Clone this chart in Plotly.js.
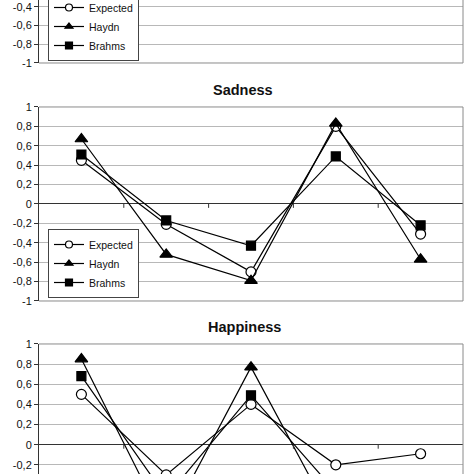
<!DOCTYPE html>
<html>
<head>
<meta charset="utf-8">
<script src="https://cdn.plot.ly/plotly-3.0.1.min.js"></script>
<style>
  body { margin: 0; background: #fff; }
  #chart { width: 474px; height: 474px; }
</style>
</head>
<body>
<div id="chart"></div>
<script>
//data (excerpts have no visible labels)
var excerpts = ["1", "2", "3", "4", "5"];

//sadness panel
var sadExpected = [0.45, -0.21, -0.70, 0.80, -0.31];
var sadHaydn = [0.67, -0.52, -0.79, 0.83, -0.57];
var sadBrahms = [0.51, -0.17, -0.43, 0.49, -0.22];

//happiness panel (lower values are cut off by the picture, estimated)
var hapExpected = [0.50, -0.30, 0.40, -0.20, -0.09];
var hapHaydn = [0.85, -0.82, 0.77, -0.80, -0.75];
var hapBrahms = [0.68, -0.52, 0.49, -0.47, -0.50];

//y ticks
var yTicks = [-1, -0.8, -0.6, -0.4, -0.2, 0, 0.2, 0.4, 0.6, 0.8, 1];
var yLabels = ["-1", "-0,8", "-0,6", "-0,4", "-0,2", "0", "0,2", "0,4", "0,6", "0,8", "1"];

var font = "Liberation Sans, Arial, sans-serif";

//panel geometry (top panel only shows its lower part)
var topDomain = [0.8671, 1];
var topRange = [-1, -0.326];
var sadDomain = [0.365, 0.7743];
var sadRange = [-1, 1];
var hapDomain = [0, 0.2743];
var hapRange = [-0.291, 1];

var styles = {
  Expected: { symbol: "circle", size: 10, color: "#fff" },
  Haydn: { symbol: "triangle-up", size: 11, color: "#000" },
  Brahms: { symbol: "square", size: 9, color: "#000" },
};

function series(name, y, xa, ya) {
  var s = styles[name];
  return {
    x: excerpts,
    y: y,
    name: name,
    xaxis: xa,
    yaxis: ya,
    showlegend: false,
    mode: "lines+markers",
    type: "scatter",
    line: { color: "#000", width: 1.2 },
    marker: { symbol: s.symbol, size: s.size, color: s.color, line: { color: "#000", width: 1.2 } },
  };
}

//legend entries: no points, smaller markers like the legend boxes in the picture
function legendEntry(name, xa, ya, legend) {
  var s = styles[name];
  return {
    x: excerpts,
    y: excerpts.map(function () { return null; }),
    name: name,
    xaxis: xa,
    yaxis: ya,
    legend: legend,
    showlegend: true,
    mode: "lines+markers",
    type: "scatter",
    line: { color: "#000", width: 1.2 },
    marker: { symbol: s.symbol, size: 7, color: s.color, line: { color: "#000", width: 1.2 } },
  };
}

var data = [
  series("Expected", sadExpected, "x2", "y2"),
  series("Haydn", sadHaydn, "x2", "y2"),
  series("Brahms", sadBrahms, "x2", "y2"),
  series("Expected", hapExpected, "x3", "y3"),
  series("Haydn", hapHaydn, "x3", "y3"),
  series("Brahms", hapBrahms, "x3", "y3"),
  //top panel legend
  legendEntry("Expected", "x", "y", "legend"),
  legendEntry("Haydn", "x", "y", "legend"),
  legendEntry("Brahms", "x", "y", "legend"),
  //sadness legend
  legendEntry("Expected", "x2", "y2", "legend2"),
  legendEntry("Haydn", "x2", "y2", "legend2"),
  legendEntry("Brahms", "x2", "y2", "legend2"),
];

function yAxis(domain, range, anchor) {
  return {
    domain: domain,
    range: range,
    anchor: anchor,
    tickvals: yTicks,
    ticktext: yLabels,
    ticks: "outside",
    ticklen: 4,
    tickcolor: "#333",
    showline: true,
    linecolor: "#333",
    linewidth: 1,
    showgrid: true,
    gridcolor: "#b8b8b8",
    gridwidth: 1,
    //category axis crosses at zero
    zeroline: true,
    zerolinecolor: "#333",
    zerolinewidth: 1,
    fixedrange: true,
    tickfont: { family: font, size: 11, color: "#111" },
  };
}

function xAxis(anchor) {
  return {
    type: "category",
    categoryarray: excerpts,
    range: [-0.5, 4.5],
    anchor: anchor,
    showgrid: false,
    zeroline: false,
    showline: false,
    ticks: "",
    showticklabels: false,
  };
}

function edge(xr, yr, x0, x1, y0, y1) {
  return {
    type: "line", xref: xr, yref: yr, x0: x0, x1: x1, y0: y0, y1: y1,
    line: { color: "#8a8a8a", width: 1 },
  };
}

var shapes = [
  edge("x domain", "y domain", 1, 1, 0, 1),
  edge("x domain", "y domain", 0, 1, 0, 0),
  edge("x2 domain", "y2 domain", 1, 1, 0, 1),
  edge("x2 domain", "y2 domain", 0, 1, 1, 1),
  edge("x2 domain", "y2 domain", 0, 1, 0, 0),
  edge("x3 domain", "y3 domain", 1, 1, 0, 1),
  edge("x3 domain", "y3 domain", 0, 1, 1, 1),
];

//small tick marks below the zero line, between excerpts
["2", "3"].forEach(function (n) {
  for (var i = 1; i < excerpts.length; i++) {
    shapes.push({
      type: "line", xref: "x" + n, yref: "y" + n,
      x0: i - 0.5, x1: i - 0.5, y0: 0, y1: -0.04,
      line: { color: "#333", width: 1 },
    });
  }
});

var legendStyle = {
  bgcolor: "#fff",
  bordercolor: "#444",
  borderwidth: 1,
  font: { family: font, size: 10.5, color: "#111" },
  xanchor: "left",
  x: 0.0212,
  yanchor: "top",
  traceorder: "normal",
};

var layout = {
  width: 474,
  height: 474,
  margin: { l: 39, r: 11, t: 0, b: 0, autoexpand: false },
  paper_bgcolor: "#fff",
  plot_bgcolor: "#fff",
  xaxis: xAxis("y"),
  yaxis: yAxis(topDomain, topRange, "x"),
  xaxis2: xAxis("y2"),
  yaxis2: yAxis(sadDomain, sadRange, "x2"),
  xaxis3: xAxis("y3"),
  yaxis3: yAxis(hapDomain, hapRange, "x3"),
  legend: Object.assign({}, legendStyle, { y: 1 + 8 / 474 }),
  legend2: Object.assign({}, legendStyle, { y: 1 - 229 / 474 }),
  shapes: shapes,
  annotations: [
    {
      text: "<b>Sadness</b>", xref: "paper", yref: "paper",
      x: 0.482, y: 1 - 90 / 474, xanchor: "center", yanchor: "middle",
      showarrow: false, font: { family: font, size: 14.5, color: "#111" },
    },
    {
      text: "<b>Happiness</b>", xref: "paper", yref: "paper",
      x: 0.485, y: 1 - 327 / 474, xanchor: "center", yanchor: "middle",
      showarrow: false, font: { family: font, size: 14.5, color: "#111" },
    },
  ],
  showlegend: true,
};

Plotly.newPlot("chart", data, layout, { displayModeBar: false, staticPlot: true });
</script>
</body>
</html>
